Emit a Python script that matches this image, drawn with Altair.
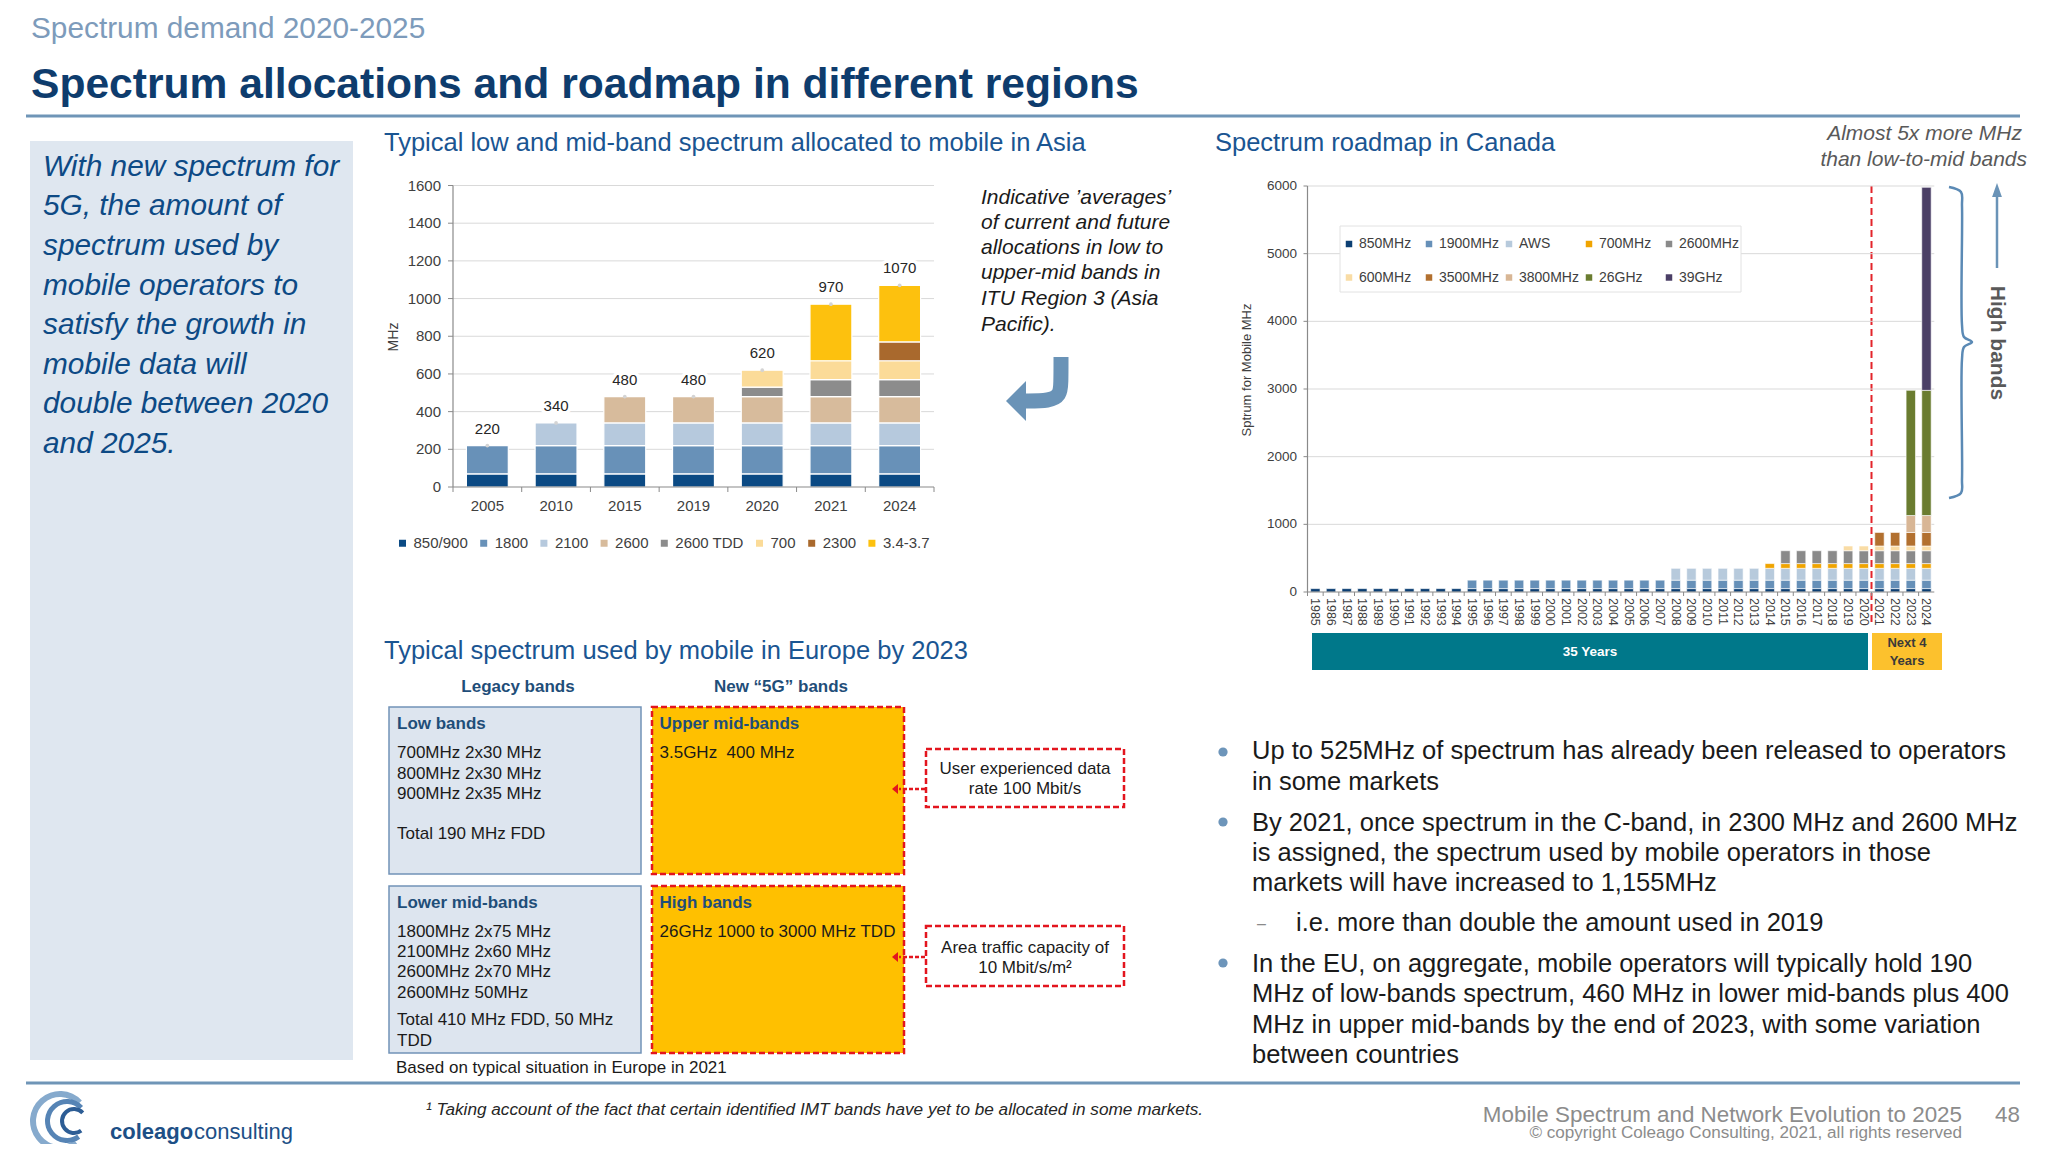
import altair as alt
import pandas as pd

OFF = 8.0
FONT = "Liberation Sans, Arial, Helvetica, sans-serif"


def P(v):
    return float(v) - OFF


# ------------------------------------------------------------------ data
asia_years = ["2005", "2010", "2015", "2019", "2020", "2021", "2024"]
asia_bands = ["850/900", "1800", "2100", "2600", "2600 TDD", "700", "2300", "3.4-3.7"]
asia_colors = ["#0b4a84", "#6891b8", "#b6c9dd", "#d7bb9c", "#8c8c8c", "#fbdb98", "#a9692d", "#fdc10e"]
asia_850_900 = [70, 70, 70, 70, 70, 70, 70]
asia_1800 = [150, 150, 150, 150, 150, 150, 150]
asia_2100 = [0, 120, 120, 120, 120, 120, 120]
asia_2600 = [0, 0, 140, 140, 140, 140, 140]
asia_2600_tdd = [0, 0, 0, 0, 50, 90, 90]
asia_700 = [0, 0, 0, 0, 90, 100, 100]
asia_2300 = [0, 0, 0, 0, 0, 0, 100]
asia_3400_3700 = [0, 0, 0, 0, 0, 300, 300]
asia_totals = [220, 340, 480, 480, 620, 970, 1070]
asia_y_ticks = [0, 200, 400, 600, 800, 1000, 1200, 1400, 1600]

canada_years = ["1985", "1986", "1987", "1988", "1989", "1990", "1991", "1992", "1993", "1994",
                "1995", "1996", "1997", "1998", "1999", "2000", "2001", "2002", "2003", "2004",
                "2005", "2006", "2007", "2008", "2009", "2010", "2011", "2012", "2013", "2014",
                "2015", "2016", "2017", "2018", "2019", "2020", "2021", "2022", "2023", "2024"]
canada_bands = ["850MHz", "1900MHz", "AWS", "700MHz", "2600MHz",
                "600MHz", "3500MHz", "3800MHz", "26GHz", "39GHz"]
canada_colors = ["#0c3f73", "#6690b8", "#b7cadc", "#f0a400", "#8a8a8a",
                 "#f9dca5", "#b2702f", "#d8b695", "#6a7c30", "#4b3f66"]
can_850 = [50, 50, 50, 50, 50, 50, 50, 50, 50, 50,
           50, 50, 50, 50, 50, 50, 50, 50, 50, 50,
           50, 50, 50, 50, 50, 50, 50, 50, 50, 50,
           50, 50, 50, 50, 50, 50, 50, 50, 50, 50]
can_1900 = [0, 0, 0, 0, 0, 0, 0, 0, 0, 0,
            125, 125, 125, 125, 125, 125, 125, 125, 125, 125,
            125, 125, 125, 125, 125, 125, 125, 125, 125, 125,
            125, 125, 125, 125, 125, 125, 125, 125, 125, 125]
can_aws = [0, 0, 0, 0, 0, 0, 0, 0, 0, 0,
           0, 0, 0, 0, 0, 0, 0, 0, 0, 0,
           0, 0, 0, 175, 175, 175, 175, 175, 175, 175,
           175, 175, 175, 175, 175, 175, 175, 175, 175, 175]
can_700 = [0, 0, 0, 0, 0, 0, 0, 0, 0, 0,
           0, 0, 0, 0, 0, 0, 0, 0, 0, 0,
           0, 0, 0, 0, 0, 0, 0, 0, 0, 70,
           70, 70, 70, 70, 70, 70, 70, 70, 70, 70]
can_2600 = [0, 0, 0, 0, 0, 0, 0, 0, 0, 0,
            0, 0, 0, 0, 0, 0, 0, 0, 0, 0,
            0, 0, 0, 0, 0, 0, 0, 0, 0, 0,
            190, 190, 190, 190, 190, 190, 190, 190, 190, 190]
can_600 = [0, 0, 0, 0, 0, 0, 0, 0, 0, 0,
           0, 0, 0, 0, 0, 0, 0, 0, 0, 0,
           0, 0, 0, 0, 0, 0, 0, 0, 0, 0,
           0, 0, 0, 0, 70, 70, 70, 70, 70, 70]
can_3500 = [0, 0, 0, 0, 0, 0, 0, 0, 0, 0,
            0, 0, 0, 0, 0, 0, 0, 0, 0, 0,
            0, 0, 0, 0, 0, 0, 0, 0, 0, 0,
            0, 0, 0, 0, 0, 0, 200, 200, 200, 200]
can_3800 = [0, 0, 0, 0, 0, 0, 0, 0, 0, 0,
            0, 0, 0, 0, 0, 0, 0, 0, 0, 0,
            0, 0, 0, 0, 0, 0, 0, 0, 0, 0,
            0, 0, 0, 0, 0, 0, 0, 0, 250, 250]
can_26g = [0, 0, 0, 0, 0, 0, 0, 0, 0, 0,
           0, 0, 0, 0, 0, 0, 0, 0, 0, 0,
           0, 0, 0, 0, 0, 0, 0, 0, 0, 0,
           0, 0, 0, 0, 0, 0, 0, 0, 1850, 1850]
can_39g = [0, 0, 0, 0, 0, 0, 0, 0, 0, 0,
           0, 0, 0, 0, 0, 0, 0, 0, 0, 0,
           0, 0, 0, 0, 0, 0, 0, 0, 0, 0,
           0, 0, 0, 0, 0, 0, 0, 0, 0, 3000]
canada_y_ticks = [0, 1000, 2000, 3000, 4000, 5000, 6000]


def long_df(years, bands, series):
    rows = []
    for bi, (b, vals) in enumerate(zip(bands, series)):
        for yr, v in zip(years, vals):
            if v > 0:
                rows.append({"year": yr, "band": b, "value": v, "idx": bi})
    return pd.DataFrame(rows)


asia_df = long_df(asia_years, asia_bands,
                  [asia_850_900, asia_1800, asia_2100, asia_2600, asia_2600_tdd,
                   asia_700, asia_2300, asia_3400_3700])
canada_df = long_df(canada_years, canada_bands,
                    [can_850, can_1900, can_aws, can_700, can_2600, can_600,
                     can_3500, can_3800, can_26g, can_39g])

ONE = pd.DataFrame({"k": [0]})
AXIS_GREY = "#8a8a8a"
GRID_GREY = "#d9d9d9"

# ------------------------------------------------------------------ helpers for slide furniture


def T(rows, size, color="#1a1a1a", weight="normal", style="normal", align="left",
      angle=0, baseline="middle"):
    df = pd.DataFrame(rows, columns=["x", "y", "t"])
    df["x"] = df["x"] - OFF
    df["y"] = df["y"] - OFF
    return alt.Chart(df).mark_text(
        fontSize=size, color=color, fontWeight=weight, fontStyle=style, align=align,
        angle=angle, baseline=baseline, font=FONT
    ).encode(
        x=alt.X("x:Q", scale=None, axis=None),
        y=alt.Y("y:Q", scale=None, axis=None),
        text="t:N",
    )


def R(rows, fill, stroke=None, sw=0.0, dash=None):
    df = pd.DataFrame(rows, columns=["x", "y", "x2", "y2"])
    for c in ["x", "y", "x2", "y2"]:
        df[c] = df[c] - OFF
    kw = dict(fill=fill, strokeWidth=sw)
    if stroke:
        kw["stroke"] = stroke
    if dash:
        kw["strokeDash"] = dash
    return alt.Chart(df).mark_rect(**kw).encode(
        x=alt.X("x:Q", scale=None, axis=None), x2="x2:Q",
        y=alt.Y("y:Q", scale=None, axis=None), y2="y2:Q",
    )


def L(points, color, width, dash=None, interp="linear", cap="butt"):
    df = pd.DataFrame(points, columns=["x", "y"])
    df["x"] = df["x"] - OFF
    df["y"] = df["y"] - OFF
    df["o"] = range(len(df))
    kw = dict(color=color, strokeWidth=width, interpolate=interp, strokeCap=cap,
              strokeJoin="round")
    if dash:
        kw["strokeDash"] = dash
    return alt.Chart(df).mark_line(**kw).encode(
        x=alt.X("x:Q", scale=None, axis=None),
        y=alt.Y("y:Q", scale=None, axis=None),
        order="o:Q",
    )


def S(x, y, shape, size, color):
    df = pd.DataFrame({"x": [P(x)], "y": [P(y)]})
    return alt.Chart(df).mark_point(shape=shape, size=size, filled=True, color=color,
                                     opacity=1, strokeWidth=0).encode(
        x=alt.X("x:Q", scale=None, axis=None),
        y=alt.Y("y:Q", scale=None, axis=None),
    )


# ------------------------------------------------------------------ Asia chart
AX0, AX1, AY0, AY1 = 453, 934, 487, 185.5
ax_sc = alt.Scale(type="band", domain=asia_years, range=[P(AX0), P(AX1)],
                  paddingInner=0, paddingOuter=0)
ay_sc = alt.Scale(domain=[0, 1600], range=[P(AY0), P(AY1)], nice=False, zero=False)

asia_grid = alt.Chart(pd.DataFrame({"v": asia_y_ticks[1:]})).mark_rule(
    color=GRID_GREY, strokeWidth=1).encode(
    y=alt.Y("v:Q", scale=ay_sc, axis=None), x=alt.value(P(AX0)), x2=alt.value(P(AX1)))
asia_ylab = alt.Chart(pd.DataFrame({"v": asia_y_ticks})).mark_text(
    align="right", baseline="middle", fontSize=15, font=FONT, color="#404040").encode(
    y=alt.Y("v:Q", scale=ay_sc, axis=None), x=alt.value(P(441)),
    text=alt.Text("v:Q", format="d"))
asia_ytick = alt.Chart(pd.DataFrame({"v": asia_y_ticks})).mark_rule(
    color=AXIS_GREY, strokeWidth=1).encode(
    y=alt.Y("v:Q", scale=ay_sc, axis=None), x=alt.value(P(AX0 - 5)), x2=alt.value(P(AX0)))
asia_axes = alt.Chart(ONE).mark_rule(color=AXIS_GREY, strokeWidth=1.2).encode(
    x=alt.value(P(AX0)), y=alt.value(P(AY1)), y2=alt.value(P(AY0)))
asia_xaxis = alt.Chart(ONE).mark_rule(color=AXIS_GREY, strokeWidth=1.2).encode(
    x=alt.value(P(AX0)), x2=alt.value(P(AX1)), y=alt.value(P(AY0)))
asia_xtick = alt.Chart(pd.DataFrame({"year": asia_years})).mark_rule(
    color=AXIS_GREY, strokeWidth=1).encode(
    x=alt.X("year:N", scale=ax_sc, axis=None, bandPosition=0),
    y=alt.value(P(AY0)), y2=alt.value(P(AY0 + 5)))
asia_xtick_end = alt.Chart(ONE).mark_rule(color=AXIS_GREY, strokeWidth=1).encode(
    x=alt.value(P(AX1)), y=alt.value(P(AY0)), y2=alt.value(P(AY0 + 5)))
asia_xlab = alt.Chart(pd.DataFrame({"year": asia_years})).mark_text(
    align="center", baseline="middle", fontSize=15, font=FONT, color="#404040").encode(
    x=alt.X("year:N", scale=ax_sc, axis=None, bandPosition=0.5),
    y=alt.value(P(506)), text="year:N")
asia_bars = alt.Chart(asia_df).mark_bar(
    width={"band": 0.61}, stroke="white", strokeWidth=1.2).encode(
    x=alt.X("year:N", scale=ax_sc, axis=None),
    y=alt.Y("value:Q", scale=ay_sc, axis=None, stack="zero"),
    color=alt.Color("band:N", scale=alt.Scale(domain=asia_bands, range=asia_colors),
                    legend=alt.Legend(orient="none", legendX=P(395), legendY=P(535.5),
                                      direction="horizontal", title=None,
                                      symbolType="square", symbolSize=49,
                                      symbolStrokeWidth=0, labelFontSize=15,
                                      labelFont=FONT, labelColor="#404040",
                                      columnPadding=8.2, labelOffset=3.5, padding=0)),
    order=alt.Order("idx:Q", sort="ascending"),
)
tot_df = pd.DataFrame({"year": asia_years, "total": asia_totals})
asia_dots = alt.Chart(tot_df).mark_circle(size=14, color="#d4d4d4", opacity=1).encode(
    x=alt.X("year:N", scale=ax_sc, axis=None, bandPosition=0.5),
    y=alt.Y("total:Q", scale=ay_sc, axis=None))
asia_tot_halo = alt.Chart(tot_df).mark_text(
    fontSize=15, font=FONT, color="white", stroke="white", strokeWidth=7,
    baseline="alphabetic", dy=-12).encode(
    x=alt.X("year:N", scale=ax_sc, axis=None, bandPosition=0.5),
    y=alt.Y("total:Q", scale=ay_sc, axis=None), text=alt.Text("total:Q", format="d"))
asia_tot = alt.Chart(tot_df).mark_text(
    fontSize=15, font=FONT, color="#262626", baseline="alphabetic", dy=-12).encode(
    x=alt.X("year:N", scale=ax_sc, axis=None, bandPosition=0.5),
    y=alt.Y("total:Q", scale=ay_sc, axis=None), text=alt.Text("total:Q", format="d"))

asia = alt.layer(asia_grid, asia_ytick, asia_xtick, asia_xtick_end, asia_bars, asia_axes,
                 asia_xaxis, asia_ylab, asia_xlab, asia_dots, asia_tot_halo, asia_tot)

# ------------------------------------------------------------------ Canada chart
CX0, CX1, CY0, CY1 = 1307.5, 1934.3, 592, 186
cx_sc = alt.Scale(type="band", domain=canada_years, range=[P(CX0), P(CX1)],
                  paddingInner=0, paddingOuter=0)
cy_sc = alt.Scale(domain=[0, 6000], range=[P(CY0), P(CY1)], nice=False, zero=False)

can_grid = alt.Chart(pd.DataFrame({"v": canada_y_ticks[1:]})).mark_rule(
    color=GRID_GREY, strokeWidth=1).encode(
    y=alt.Y("v:Q", scale=cy_sc, axis=None), x=alt.value(P(CX0)), x2=alt.value(P(CX1)))
can_ylab = alt.Chart(pd.DataFrame({"v": canada_y_ticks})).mark_text(
    align="right", baseline="middle", fontSize=13.5, font=FONT, color="#404040").encode(
    y=alt.Y("v:Q", scale=cy_sc, axis=None), x=alt.value(P(1297)),
    text=alt.Text("v:Q", format="d"))
can_ytick = alt.Chart(pd.DataFrame({"v": canada_y_ticks})).mark_rule(
    color=AXIS_GREY, strokeWidth=1).encode(
    y=alt.Y("v:Q", scale=cy_sc, axis=None), x=alt.value(P(CX0 - 4)), x2=alt.value(P(CX0)))
can_yaxis = alt.Chart(ONE).mark_rule(color=AXIS_GREY, strokeWidth=1.2).encode(
    x=alt.value(P(CX0)), y=alt.value(P(CY1)), y2=alt.value(P(CY0)))
can_xaxis = alt.Chart(ONE).mark_rule(color=AXIS_GREY, strokeWidth=1.2).encode(
    x=alt.value(P(CX0)), x2=alt.value(P(CX1)), y=alt.value(P(CY0)))
can_xtick = alt.Chart(pd.DataFrame({"year": canada_years})).mark_rule(
    color=AXIS_GREY, strokeWidth=1).encode(
    x=alt.X("year:N", scale=cx_sc, axis=None, bandPosition=0),
    y=alt.value(P(CY0)), y2=alt.value(P(CY0 + 4)))
can_xlab = alt.Chart(pd.DataFrame({"year": canada_years})).mark_text(
    align="left", baseline="middle", angle=90, fontSize=12.5, font=FONT,
    color="#404040").encode(
    x=alt.X("year:N", scale=cx_sc, axis=None, bandPosition=0.5),
    y=alt.value(P(598)), text="year:N")
can_bars = alt.Chart(canada_df).mark_bar(
    width={"band": 0.6}, stroke="white", strokeWidth=0.6).encode(
    x=alt.X("year:N", scale=cx_sc, axis=None),
    y=alt.Y("value:Q", scale=cy_sc, axis=None, stack="zero"),
    color=alt.Color("band:N", scale=alt.Scale(domain=canada_bands, range=canada_colors),
                    legend=alt.Legend(orient="none", legendX=P(1342), legendY=P(237),
                                      direction="horizontal", columns=5, gridAlign="all",
                                      title=None, symbolType="square", symbolSize=42,
                                      symbolStrokeWidth=0, labelFontSize=14,
                                      labelFont=FONT, labelColor="#404040",
                                      columnPadding=3, rowPadding=19.5, labelOffset=3,
                                      padding=0)),
    order=alt.Order("idx:Q", sort="ascending"),
)
canada = alt.layer(can_grid, can_ytick, can_xtick, can_bars, can_yaxis, can_xaxis,
                   can_ylab, can_xlab)
canada_legend_box = R([(1340, 226, 1741, 292)], "white", stroke="#e2e2e2", sw=1)

# ------------------------------------------------------------------ slide furniture
BLUE_T = "#1a5592"
NAVY = "#1f4e79"
RED = "#e3151e"

deco = [
    # header
    T([(31, 28.5, "Spectrum demand 2020-2025")], 29.8, color="#7d9bbb"),
    T([(31, 84.5, "Spectrum allocations and roadmap in different regions")], 42.6,
      color="#0e3c6d", weight="bold"),
    L([(26, 116), (2020, 116)], "#6f95b7", 3),
    # left panel
    R([(30, 141, 353, 1060)], "#dfe7f0"),
    T([(43, 167, "With new spectrum for"), (43, 206, "5G, the amount of"),
       (43, 245.5, "spectrum used by"), (43, 285.5, "mobile operators to"),
       (43, 325, "satisfy the growth in"), (43, 364.5, "mobile data will"),
       (43, 404, "double between 2020"), (43, 443.5, "and 2025.")],
      29.8, color="#0d4a85", style="italic"),
    # section titles
    T([(384, 142.5, "Typical low and mid-band spectrum allocated to mobile in Asia"),
       (384, 650.5, "Typical spectrum used by mobile in Europe by 2023"),
       (1215, 142.5, "Spectrum roadmap in Canada")], 25.5, color=BLUE_T),
    # Asia side note and arrow
    T([(981, 198, "Indicative \u2019averages\u2019"), (981, 223, "of current and future"),
       (981, 248, "allocations in low to"), (981, 273, "upper-mid bands in"),
       (981, 299, "ITU Region 3 (Asia"), (981, 325, "Pacific).")],
      21, color="#1a1a1a", style="italic"),
    L([(1061, 357), (1061, 384), (1060, 395), (1050, 401), (1024, 401)], "#6a93b7", 15,
      interp="basis"),
    S(1016, 401, "M0.5,-1L-0.5,0L0.5,1Z", 1600, "#6a93b7"),
    T([(394, 337, "MHz")], 14, color="#404040", angle=270, align="center"),
    # Canada annotations
    T([(1247, 370, "Sptrum for Mobile MHz")], 13, color="#404040", angle=270,
      align="center"),
    T([(2022, 134, "Almost 5x more MHz"), (2027, 160, "than low-to-mid bands")], 21,
      color="#595959", style="italic", align="right"),
    L([(1871.5, 186), (1871.5, 622)], "#e3242b", 2, dash=[7, 4]),
    R([(1312, 633, 1868, 670)], "#00788a"),
    R([(1872, 633, 1942, 670)], "#fcc12d"),
    T([(1590, 652, "35 Years")], 13.5, color="white", weight="bold", align="center"),
    T([(1907, 643, "Next 4"), (1907, 661, "Years")], 13, color="#3a3a3a", weight="bold",
      align="center"),
    L([(1949, 187), (1961, 192), (1962, 206), (1962, 325), (1964, 337), (1972, 342),
       (1964, 347), (1962, 359), (1962, 479), (1961, 493), (1949, 498)],
      "#5b8ab5", 2.5, interp="catmull-rom"),
    L([(1997, 268), (1997, 196)], "#6a93b7", 2.5),
    S(1997, 190, "M-0.7,1L0,-1L0.7,1Z", 196, "#6a93b7"),
    T([(1997, 343, "High bands")], 21, color="#595959", weight="bold", angle=90,
      align="center"),
    # Europe table
    T([(518, 687, "Legacy bands"), (781, 687, "New \u201c5G\u201d bands")], 17, color=NAVY,
      weight="bold", align="center"),
    R([(389, 707, 641, 874), (389, 886, 641, 1053)], "#dde5ef", stroke="#7193b8", sw=1.5),
    R([(652, 707, 904, 874), (652, 886, 904, 1053)], "#ffc000", stroke=RED, sw=2.5,
      dash=[6, 3]),
    R([(926, 749, 1124, 807), (926, 926, 1124, 986)], "white", stroke=RED, sw=2.5,
      dash=[6, 3]),
    T([(397, 724, "Low bands"), (397, 903, "Lower mid-bands"),
       (659.5, 724, "Upper mid-bands"), (659.5, 903, "High bands")], 17, color=NAVY,
      weight="bold"),
    T([(397, 753, "700MHz 2x30 MHz"), (397, 774, "800MHz 2x30 MHz"),
       (397, 794, "900MHz 2x35 MHz"), (397, 834, "Total 190 MHz FDD"),
       (397, 932, "1800MHz 2x75 MHz"), (397, 952, "2100MHz 2x60 MHz"),
       (397, 972, "2600MHz 2x70 MHz"), (397, 993, "2600MHz 50MHz"),
       (397, 1020, "Total 410 MHz FDD, 50 MHz"), (397, 1041, "TDD"),
       (659.5, 753, "3.5GHz\u00a0 400 MHz"), (659.5, 932, "26GHz 1000 to 3000 MHz TDD"),
       (396, 1068, "Based on typical situation in Europe in 2021")], 17, color="#1a1a1a"),
    T([(1025, 769, "User experienced data"), (1025, 789, "rate 100 Mbit/s"),
       (1025, 948, "Area traffic capacity of"), (1025, 968, "10 Mbit/s/m\u00b2")], 17,
      color="#1a1a1a", align="center"),
    L([(925, 789), (899, 789)], RED, 2.5, dash=[4, 2]),
    S(895, 789, "M0.6,-1L-0.6,0L0.6,1Z", 100, RED),
    L([(925, 957), (899, 957)], RED, 2.5, dash=[4, 2]),
    S(895, 957, "M0.6,-1L-0.6,0L0.6,1Z", 100, RED),
    # bullets
    T([(1252, 751, "Up to 525MHz of spectrum has already been released to operators"),
       (1252, 782, "in some markets"),
       (1252, 822.5, "By 2021, once spectrum in the C-band, in 2300 MHz and 2600 MHz"),
       (1252, 853, "is assigned, the spectrum used by mobile operators in those"),
       (1252, 883, "markets will have increased to 1,155MHz"),
       (1296, 923, "i.e. more than double the amount used in 2019"),
       (1252, 964, "In the EU, on aggregate, mobile operators will typically hold 190"),
       (1252, 994, "MHz of low-bands spectrum, 460 MHz in lower mid-bands plus 400"),
       (1252, 1025, "MHz in upper mid-bands by the end of 2023, with some variation"),
       (1252, 1055, "between countries")], 25.5, color="#1a1a1a"),
    T([(1257, 924, "\u2013")], 16, color="#8a8a8a"),
    # footer
    L([(26, 1083), (2020, 1083)], "#6f95b7", 3),
    T([(426, 1109.5, "\u00b9 Taking account of the fact that certain identified IMT bands "
                     "have yet to be allocated in some markets.")], 17.2, color="#262626",
      style="italic"),
    T([(1962, 1114.5, "Mobile Spectrum and Network Evolution to 2025"),
       (2020, 1114.5, "48")], 22.4, color="#8c8c8c", align="right"),
    T([(1962, 1133, "\u00a9 copyright Coleago Consulting, 2021, all rights reserved")],
      17.1, color="#8c8c8c", align="right"),
    T([(110, 1132, "coleago")], 22, color="#1d4f86", weight="bold"),
    T([(194, 1132, "consulting")], 22, color="#1d4f86"),
]

bullet_df = pd.DataFrame({"x": [P(1223), P(1223), P(1223)], "y": [P(752), P(822), P(963)]})
bullets = alt.Chart(bullet_df).mark_circle(size=85, color="#6d95ba", opacity=1).encode(
    x=alt.X("x:Q", scale=None, axis=None), y=alt.Y("y:Q", scale=None, axis=None))

logo_layers = []
for cx, r, r2, col in [(60, 30, 24, "#86aacd"), (67, 22, 17, "#5684b5"),
                       (74, 14, 10, "#2d5d95")]:
    logo_layers.append(
        alt.Chart(ONE).mark_arc(x=P(cx), y=P(1121), radius=r, radius2=r2,
                                theta=2.5, theta2=7.1, color=col).encode(
            opacity=alt.value(1)))

chart = alt.layer(*deco, bullets, *logo_layers, asia, canada, canada_legend_box).resolve_scale(
    x="independent", y="independent", color="independent"
).resolve_legend(color="independent").properties(
    width=2032, height=1136, autosize=alt.AutoSizeParams(type="none"), padding=0,
    background="white"
).configure_view(stroke=None)

chart.save("out.html", embed_options={"renderer": "svg", "actions": False})
